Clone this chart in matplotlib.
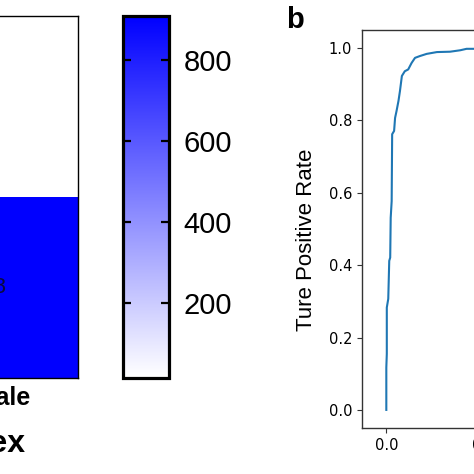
import numpy as np
import matplotlib
matplotlib.use("Agg")
import matplotlib.pyplot as plt
from matplotlib.colors import LinearSegmentedColormap

# === Data ===
sex_labels = ["Male", "Female"]
confusion = np.array([[887, 15],
                      [23, 908]])

fpr = [0.0, 0.0, 0.001, 0.001, 0.004, 0.006, 0.008, 0.009, 0.011, 0.012,
       0.016, 0.018, 0.021, 0.025, 0.028, 0.032, 0.038, 0.045, 0.052, 0.059,
       0.069, 0.083, 0.104, 0.131, 0.152, 0.165, 0.180, 0.250, 1.0]
tpr = [0.0, 0.117, 0.155, 0.283, 0.307, 0.412, 0.421, 0.531, 0.577, 0.762,
       0.771, 0.807, 0.826, 0.854, 0.881, 0.923, 0.936, 0.941, 0.959, 0.973,
       0.978, 0.984, 0.989, 0.990, 0.994, 0.998, 0.998, 1.0, 1.0]
cbar_ticks = [200, 400, 600, 800]

W = H = 474.0
fig = plt.figure(figsize=(4.74, 4.74), dpi=100)


def px_box(left, top, right, bottom):
    """Pixel box (top-left origin) -> figure fraction rect."""
    return [left / W, 1 - bottom / H, (right - left) / W, (bottom - top) / H]


arial = "Liberation Sans"

# === (a) confusion matrix heatmap ===
cmap = LinearSegmentedColormap.from_list("wb", ["#ffffff", "#0000ff"])
ax_cm = fig.add_axes(px_box(-286, 16, 78, 378))
im = ax_cm.imshow(confusion, cmap=cmap, aspect="auto",
                  vmin=confusion.min(), vmax=confusion.max())
for i in range(confusion.shape[0]):
    for j in range(confusion.shape[1]):
        ax_cm.text(j, i, str(confusion[i, j]), ha="center", va="center",
                   fontsize=16, color="#0a0a3c", family=arial)
ax_cm.set_xticks(range(len(sex_labels)))
ax_cm.set_xticklabels(sex_labels, fontsize=18, fontweight="bold", family=arial)
ax_cm.set_yticks(range(len(sex_labels)))
ax_cm.set_yticklabels(sex_labels, fontsize=18, fontweight="bold", family=arial)
ax_cm.tick_params(length=0, pad=6)
ax_cm.set_xlabel("Sex", fontsize=23, fontweight="bold", family=arial, ha="right")
ax_cm.xaxis.set_label_coords((25.5 + 286) / 364, -0.14)
for s in ax_cm.spines.values():
    s.set_linewidth(1.0)
    s.set_color("black")

# colorbar
cax = fig.add_axes(px_box(123.5, 16, 168.5, 377.5))
cb = fig.colorbar(im, cax=cax, ticks=cbar_ticks)
cb.outline.set_linewidth(2.3)
cb.outline.set_edgecolor("black")
cax.tick_params(direction="in", left=True, right=True, length=6, width=1.6,
                labelsize=21, pad=11, color="black")
for lab in cax.get_yticklabels():
    lab.set_family(arial)

# === (b) ROC curve ===
ax_roc = fig.add_axes(px_box(362, 30, 897, 428))
ax_roc.plot(fpr, tpr, color="#1f77b4", lw=1.5)
ax_roc.set_xticks([0.0, 0.2, 0.4, 0.6, 0.8, 1.0])
ax_roc.set_yticks([0.0, 0.2, 0.4, 0.6, 0.8, 1.0])
ax_roc.tick_params(labelsize=10.5, length=3.6, pad=3.6, color="#333333")
for s in ax_roc.spines.values():
    s.set_linewidth(1.0)
    s.set_color("#333333")
ax_roc.text((306 - 362) / 535, (428 - 240) / 398, "Ture Positive Rate",
            rotation=90, ha="center", va="center", fontsize=16, family=arial,
            transform=ax_roc.transAxes)

fig.text(286 / W, 1 - 28 / H, "b", fontsize=21, fontweight="bold",
         family=arial, ha="left", va="baseline")

fig.savefig("out.png", dpi=100)
